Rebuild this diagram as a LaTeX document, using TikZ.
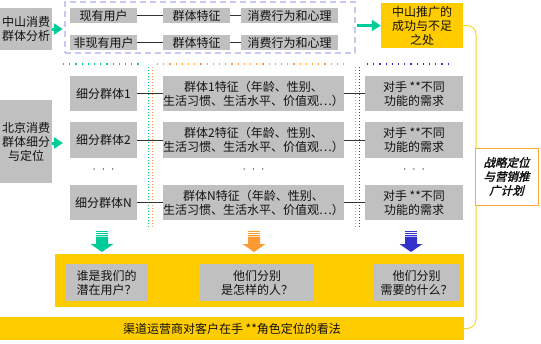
\documentclass[tikz,border=0pt]{standalone}
\usepackage{fontspec}
\usepackage{tikz}
\usetikzlibrary{arrows.meta,positioning,calc}
\newfontfamily\cjk{Noto Sans CJK SC}
\newfontfamily\cjkslant[FakeSlant=0.25,FakeBold=2]{Noto Sans CJK SC}
\definecolor{SegGray}{HTML}{C0C0C0}
\definecolor{SegYellow}{HTML}{FFCC00}
\definecolor{SegGreen}{HTML}{00CC99}
\definecolor{SegOrange}{HTML}{FF9933}
\definecolor{SegBlue}{HTML}{3333CC}
\definecolor{SegLav}{HTML}{C8C8F5}
\definecolor{SegAmber}{HTML}{FFAA33}
\definecolor{SegInk}{HTML}{111111}
\definecolor{SegLine}{HTML}{333333}
\tikzset{
  segtext/.style={font=\cjk\fontsize{12}{14}\selectfont, text=SegInk, align=center, inner sep=0pt},
  graybox/.style={segtext, fill=SegGray},
  yellowbox/.style={segtext, fill=SegYellow},
  planbox/.style={segtext, font=\cjkslant\fontsize{11.5}{14}\selectfont, fill=white, draw=SegAmber, line width=1pt},
  grpbox/.style={draw=SegLav, line width=1.5pt, dash pattern=on 6pt off 4pt},
  segline/.style={draw=SegLine, line width=1pt},
  seglead/.style={-{Triangle[length=9pt,width=11pt]}, line width=3pt, draw=SegGreen},
  segdots/.style={line width=1pt, dash pattern=on 1pt off 2pt},
  segsparse/.style={line width=1.2pt, dash pattern=on 1.2pt off 5pt},
  segbrace/.style={draw=SegYellow!85, line width=1pt, rounded corners=9pt}
}
\begin{document}
\begin{tikzpicture}[x=1pt,y=-1pt,every node/.style={segtext}]
\useasboundingbox (0,0) rectangle (541,343);
\node[grpbox, minimum width=290pt, minimum height=51pt] (zsgrp) at (210,27.5) {};
\node[graybox, minimum width=52pt, minimum height=42pt] (zsfx) at (26,29) {中山消费\\群体分析};
\node[graybox, minimum width=67pt, minimum height=15pt] (xyyh) at (103.5,15.5) {现有用户};
\node[graybox, minimum width=67pt, minimum height=15pt] (fxyyh) at (103.5,42.5) {非现有用户};
\node[graybox, minimum width=67pt, minimum height=15pt] (qtz1) at (196.5,15.5) {群体特征};
\node[graybox, minimum width=67pt, minimum height=15pt] (qtz2) at (196.5,42.5) {群体特征};
\node[graybox, minimum width=97pt, minimum height=15pt] (xfxl1) at (289.5,15.5) {消费行为和心理};
\node[graybox, minimum width=97pt, minimum height=15pt] (xfxl2) at (289.5,42.5) {消费行为和心理};
\node[yellowbox, minimum width=82pt, minimum height=45pt] (cgbz) at (422,25.5) {中山推广的\\成功与不足\\之处};
\draw[segline] (xyyh.east) -- (qtz1.west);
\draw[segline] (qtz1.east) -- (xfxl1.west);
\draw[segline] (fxyyh.east) -- (qtz2.west);
\draw[segline] (qtz2.east) -- (xfxl2.west);
\draw[seglead, shorten >=1.5pt] (zsfx.east) -- (zsgrp.west |- zsfx.east);
\draw[seglead, shorten <=1pt] (zsgrp.east |- cgbz.west) -- (cgbz.west);

\draw[segsparse, SegGreen] (63,64) -- (140,64);
\draw[segsparse, SegOrange] (157,64) -- (348,64);
\draw[segsparse, SegBlue] (367,64) -- (453,64);
\draw[segdots, SegGreen] (148,67) -- (148,229);
\draw[segdots, SegOrange] (152,67) -- (152,229);
\draw[segdots, SegOrange] (355,67) -- (355,229);
\draw[segdots, SegBlue] (359,67) -- (359,229);

\node[graybox, minimum width=52pt, minimum height=83pt] (bjxf) at (26,141.5) {北京消费\\群体细分\\与定位};
\coordinate (bjtip) at (63,143);
\draw[seglead] (bjxf.east |- bjtip) -- (bjtip);
\node[graybox, minimum width=67pt, minimum height=35pt] (xf1) at (103.5,93.5) {细分群体1};
\node[graybox, minimum width=181pt, minimum height=35pt] (tz1) at (253.5,93.5) {群体1特征（年龄、性别、\\生活习惯、生活水平、价值观…）};
\node[graybox, minimum width=98pt, minimum height=35pt] (xq1) at (414,93.5) {对手 **不同\\功能的需求};
\node[graybox, minimum width=67pt, minimum height=36pt] (xf2) at (103.5,140) {细分群体2};
\node[graybox, minimum width=181pt, minimum height=36pt] (tz2) at (253.5,140) {群体2特征（年龄、性别、\\生活习惯、生活水平、价值观…）};
\node[graybox, minimum width=98pt, minimum height=36pt] (xq2) at (414,140) {对手 **不同\\功能的需求};
\node (dots1) at (103.5,170) {$\cdot\;\cdot\;\cdot$};
\node (dots2) at (253.5,170) {$\cdot\;\cdot\;\cdot$};
\node (dots3) at (414,170) {$\cdot\;\cdot\;\cdot$};
\node[graybox, minimum width=67pt, minimum height=35pt] (xfn) at (103.5,202.5) {细分群体N};
\node[graybox, minimum width=181pt, minimum height=35pt] (tzn) at (253.5,202.5) {群体N特征（年龄、性别、\\生活习惯、生活水平、价值观…）};
\node[graybox, minimum width=98pt, minimum height=35pt] (xqn) at (414,202.5) {对手 **不同\\功能的需求};
\draw[segline] (xf1.east) -- (tz1.west);
\draw[segline] (tz1.east) -- (xq1.west);
\draw[segline] (xf2.east) -- (tz2.west);
\draw[segline] (tz2.east) -- (xq2.west);
\draw[segline] (xfn.east) -- (tzn.west);
\draw[segline] (tzn.east) -- (xqn.west);

\node[yellowbox, minimum width=409pt, minimum height=53pt] (qbox) at (259.5,280.5) {};
\node[graybox, minimum width=83pt, minimum height=37pt] (qwho) at (106.5,282.5) {谁是我们的\\潜在用户？};
\node[graybox, minimum width=114pt, minimum height=37pt] (qwhat) at (257,282.5) {他们分别\\是怎样的人？};
\node[graybox, minimum width=87pt, minimum height=37pt] (qneed) at (416.5,282.5) {他们分别\\需要的什么？};
\node[yellowbox, minimum width=464pt, minimum height=23pt] (qdao) at (232,328.5) {渠道运营商对客户在手 **角色定位的看法};
\foreach \ax/\ac in {102/SegGreen,254/SegOrange,411/SegBlue}{
  \fill[\ac] (\ax-6,230.5) rectangle (\ax+6,231.5);
  \fill[\ac] (\ax-6,232.5) rectangle (\ax+6,233.5);
  \fill[\ac] (\ax-6,234.5) rectangle (\ax+6,235.5);
  \fill[\ac] (\ax-6,236.5) -- (\ax+6,236.5) -- (\ax+6,244) -- (\ax+11.5,244)
    -- (\ax,252) -- (\ax-11.5,244) -- (\ax-6,244) -- cycle;
}

\draw[segbrace] (cgbz.east) -- (476,25.5) -- (476,328.5) -- (qdao.east);
\node[planbox, minimum width=63pt, minimum height=57pt] (zlgh) at (506.5,176.5) {战略定位\\与营销推\\广计划};
\end{tikzpicture}
\end{document}
